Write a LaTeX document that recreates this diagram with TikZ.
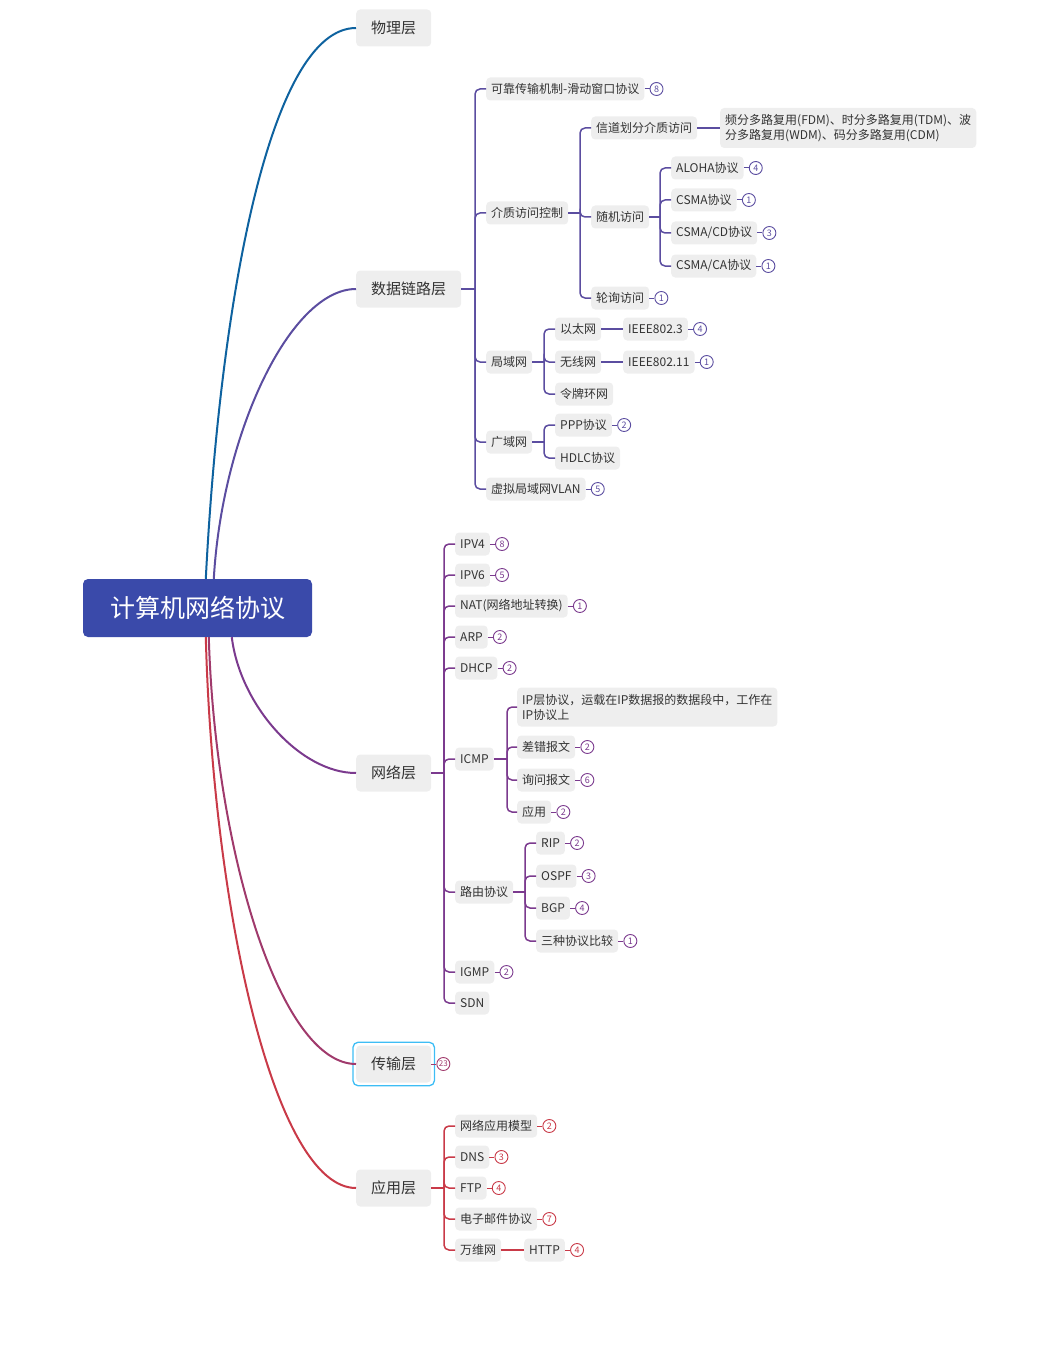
\documentclass[tikz,border=0pt]{standalone}
\usepackage{fontspec}
\setmainfont{Noto Sans CJK SC}
\usetikzlibrary{positioning}
\definecolor{cPhy}{HTML}{0E629F}
\definecolor{cDL}{HTML}{5B4DA0}
\definecolor{cNet}{HTML}{7B3A8E}
\definecolor{cTr}{HTML}{A03A6C}
\definecolor{cApp}{HTML}{C93A48}
\definecolor{rootblue}{HTML}{3A4AAA}
\definecolor{nodegray}{HTML}{EEEEEE}
\definecolor{txt}{HTML}{333333}
\definecolor{selblue}{HTML}{3DBDF5}
\newcommand{\badge}[3]{\node[cnt=#1, right=5pt of #2] (#2b) {#3}; \draw[draw=#1, line width=1pt] (#2.east) -- (#2b.west);}
\begin{document}
\begin{tikzpicture}[x=1pt,y=-1pt,
  box/.style={fill=nodegray, rounded corners=4pt, inner xsep=5pt, inner ysep=0pt, minimum height=23pt, font=\fontsize{12}{15}\selectfont, text=txt, anchor=west},
  lone/.style={box, inner xsep=15pt, minimum height=37pt, font=\fontsize{15}{18}\selectfont},
  rootbox/.style={fill=rootblue, rounded corners=5pt, text=white, minimum width=229pt, minimum height=58pt, inner sep=0pt, font=\fontsize{25}{30}\selectfont},
  cnt/.style={circle, draw=#1, text=#1, fill=white, line width=0.9pt, minimum size=13pt, inner sep=0pt, font=\fontsize{9}{9}\selectfont},
  link/.style={draw=#1, line width=1.5pt},
  br/.style={draw=#1, line width=1.5pt, rounded corners=5pt},
  main/.style={draw=#1, line width=2pt},
]
\useasboundingbox (0,0) rectangle (1054,1356);

% root and level 1
\node[rootbox] (root) at (197.5,608) {计算机网络协议};
\node[lone] (phy) at (356,28) {物理层};
\node[lone] (dl) at (356,289) {数据链路层};
\node[lone] (net) at (356,773) {网络层};
\node[lone] (tr) at (356,1064) {传输层};
\node[lone] (app) at (356,1188) {应用层};
\draw[selblue, line width=1.3pt, rounded corners=5pt] ([shift={(-3,-3)}]tr.north west) rectangle ([shift={(3,3)}]tr.south east);

\draw[main=cPhy] ([xshift=123pt]root.north west) .. controls (220,300) and (270,28) .. (phy.west);
\draw[main=cDL] ([xshift=131pt]root.north west) .. controls (222,434) and (290,289) .. (dl.west);
\draw[main=cNet] ([xshift=149pt]root.south west) .. controls (240,705) and (300,773) .. (net.west);
\draw[main=cTr] ([xshift=126pt]root.south west) .. controls (215,850) and (280,1064) .. (tr.west);
\draw[main=cApp] ([xshift=123pt]root.south west) .. controls (213,912) and (275,1188) .. (app.west);

% ---------- data link layer ----------
\coordinate (dlj) at (475,289);
\draw[link=cDL] (dl.east) -- (dlj);
\node[box] (d1) at (486,89) {可靠传输机制-滑动窗口协议};
\node[box] (d2) at (486,213) {介质访问控制};
\node[box] (d3) at (486,362) {局域网};
\node[box] (d4) at (486,442) {广域网};
\node[box] (d5) at (486,489) {虚拟局域网VLAN};
\foreach \c in {d1,d2,d3,d4,d5} \draw[br=cDL] (dlj) |- (\c.west);
\badge{cDL}{d1}{8}
\badge{cDL}{d5}{5}

\coordinate (mj) at (580,213);
\draw[link=cDL] (d2.east) -- (mj);
\node[box] (m1) at (591,128) {信道划分介质访问};
\node[box] (m2) at (591,217) {随机访问};
\node[box] (m3) at (591,298) {轮询访问};
\foreach \c in {m1,m2,m3} \draw[br=cDL] (mj) |- (\c.west);
\badge{cDL}{m3}{1}
\node[box, align=left, minimum height=40pt] (m1d) at (720,128) {频分多路复用(FDM)、时分多路复用(TDM)、波\\分多路复用(WDM)、码分多路复用(CDM)};
\draw[link=cDL] (m1.east) -- (m1d.west);

\coordinate (rj) at (660,217);
\draw[link=cDL] (m2.east) -- (rj);
\node[box] (r1) at (671,168) {ALOHA协议};
\node[box] (r2) at (671,200) {CSMA协议};
\node[box] (r3) at (671,233) {CSMA/CD协议};
\node[box] (r4) at (671,266) {CSMA/CA协议};
\foreach \c in {r1,r2,r3,r4} \draw[br=cDL] (rj) |- (\c.west);
\badge{cDL}{r1}{4}
\badge{cDL}{r2}{1}
\badge{cDL}{r3}{3}
\badge{cDL}{r4}{1}

\coordinate (lj) at (544,362);
\draw[link=cDL] (d3.east) -- (lj);
\node[box] (l1) at (555,329) {以太网};
\node[box] (l2) at (555,362) {无线网};
\node[box] (l3) at (555,394) {令牌环网};
\foreach \c in {l1,l2,l3} \draw[br=cDL] (lj) |- (\c.west);
\node[box] (e1) at (623,329) {IEEE802.3};
\node[box] (e2) at (623,362) {IEEE802.11};
\draw[link=cDL] (l1.east) -- (e1.west);
\draw[link=cDL] (l2.east) -- (e2.west);
\badge{cDL}{e1}{4}
\badge{cDL}{e2}{1}

\coordinate (wj) at (544,442);
\draw[link=cDL] (d4.east) -- (wj);
\node[box] (w1) at (555,425) {PPP协议};
\node[box] (w2) at (555,458) {HDLC协议};
\foreach \c in {w1,w2} \draw[br=cDL] (wj) |- (\c.west);
\badge{cDL}{w1}{2}

% ---------- network layer ----------
\coordinate (nj) at (444,773);
\draw[link=cNet] (net.east) -- (nj);
\node[box] (n1) at (455,544) {IPV4};
\node[box] (n2) at (455,575) {IPV6};
\node[box] (n3) at (455,606) {NAT(网络地址转换)};
\node[box] (n4) at (455,637) {ARP};
\node[box] (n5) at (455,668) {DHCP};
\node[box] (n6) at (455,759) {ICMP};
\node[box] (n7) at (455,892) {路由协议};
\node[box] (n8) at (455,972) {IGMP};
\node[box] (n9) at (455,1003) {SDN};
\foreach \c in {n1,n2,n3,n4,n5,n6,n7,n8,n9} \draw[br=cNet] (nj) |- (\c.west);
\badge{cNet}{n1}{8}
\badge{cNet}{n2}{5}
\badge{cNet}{n3}{1}
\badge{cNet}{n4}{2}
\badge{cNet}{n5}{2}
\badge{cNet}{n8}{2}

\coordinate (ij) at (507,759);
\draw[link=cNet] (n6.east) -- (ij);
\node[box, align=left, minimum height=39pt] (i1) at (517,707) {IP层协议，运载在IP数据报的数据段中，工作在\\IP协议上};
\node[box] (i2) at (517,747) {差错报文};
\node[box] (i3) at (517,780) {询问报文};
\node[box] (i4) at (517,812) {应用};
\foreach \c in {i1,i2,i3,i4} \draw[br=cNet] (ij) |- (\c.west);
\badge{cNet}{i2}{2}
\badge{cNet}{i3}{6}
\badge{cNet}{i4}{2}

\coordinate (pj) at (525,892);
\draw[link=cNet] (n7.east) -- (pj);
\node[box] (p1) at (536,843) {RIP};
\node[box] (p2) at (536,876) {OSPF};
\node[box] (p3) at (536,908) {BGP};
\node[box] (p4) at (536,941) {三种协议比较};
\foreach \c in {p1,p2,p3,p4} \draw[br=cNet] (pj) |- (\c.west);
\badge{cNet}{p1}{2}
\badge{cNet}{p2}{3}
\badge{cNet}{p3}{4}
\badge{cNet}{p4}{1}

% ---------- transport layer ----------
\node[cnt=cTr, font=\fontsize{8}{8}\selectfont, right=5pt of tr] (trb) {23};
\draw[draw=cTr, line width=1pt] (tr.east) -- (trb.west);

% ---------- application layer ----------
\coordinate (aj) at (444,1188);
\draw[link=cApp] (app.east) -- (aj);
\node[box] (a1) at (455,1126) {网络应用模型};
\node[box] (a2) at (455,1157) {DNS};
\node[box] (a3) at (455,1188) {FTP};
\node[box] (a4) at (455,1219) {电子邮件协议};
\node[box] (a5) at (455,1250) {万维网};
\foreach \c in {a1,a2,a3,a4,a5} \draw[br=cApp] (aj) |- (\c.west);
\node[box] (h1) at (524,1250) {HTTP};
\draw[link=cApp] (a5.east) -- (h1.west);
\badge{cApp}{a1}{2}
\badge{cApp}{a2}{3}
\badge{cApp}{a3}{4}
\badge{cApp}{a4}{7}
\badge{cApp}{h1}{4}
\end{tikzpicture}
\end{document}
